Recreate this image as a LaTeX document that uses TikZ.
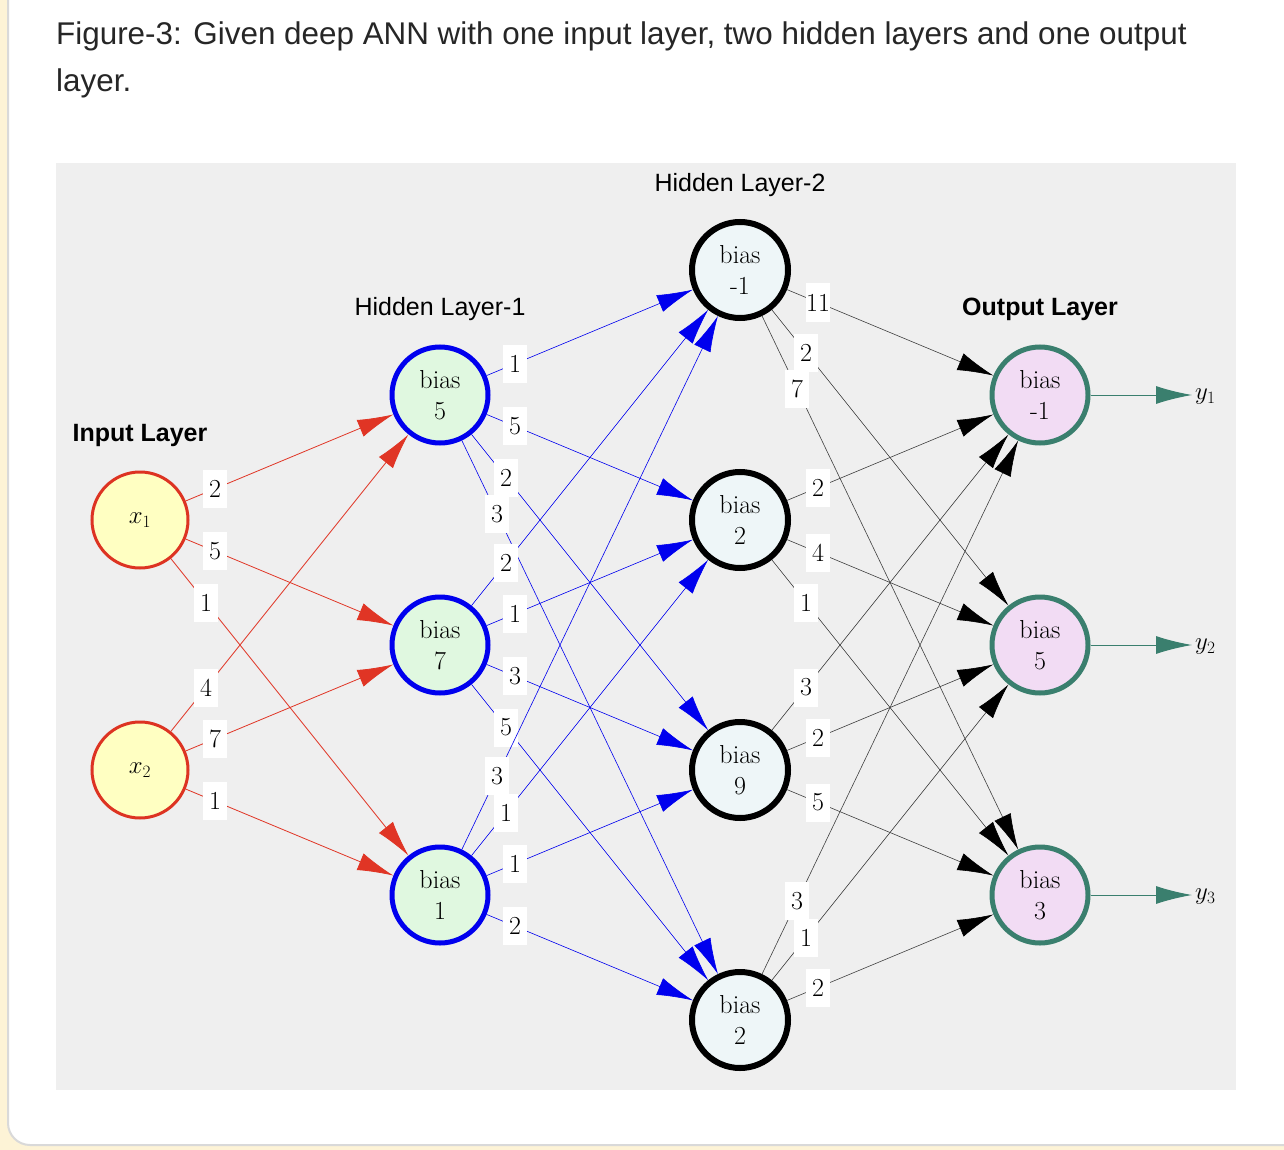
\documentclass[tikz,border=0pt]{standalone}
\usepackage{fontspec}
\newfontfamily\hdrfont{Liberation Sans}
\usetikzlibrary{arrows.meta,calc}
\definecolor{cream}{HTML}{FDF3D6}
\definecolor{panel}{HTML}{EFEFEF}
\definecolor{inF}{HTML}{FFFFC2}
\definecolor{inD}{HTML}{DD3322}
\definecolor{h1F}{HTML}{E0F8E0}
\definecolor{h1D}{HTML}{0000EE}
\definecolor{h2F}{HTML}{EEF6F8}
\definecolor{oF}{HTML}{F2DCF4}
\definecolor{oD}{HTML}{3A7F6E}
\definecolor{rd}{HTML}{E03525}
\tikzset{
 neuron/.style={circle,minimum size=96pt,inner sep=0pt,align=center,font=\fontsize{26}{31}\selectfont},
 inN/.style={neuron,fill=inF,draw=inD,line width=3pt},
 h1N/.style={neuron,fill=h1F,draw=h1D,line width=5pt},
 h2N/.style={neuron,fill=h2F,draw=black,line width=6pt},
 oN/.style={neuron,fill=oF,draw=oD,line width=5pt},
 wl/.style={fill=white,inner sep=0pt,minimum width=24pt,minimum height=38pt,font=\fontsize{26}{30}\selectfont},
 eR/.style={-{Latex[length=36pt,width=18pt,rd]},draw=rd,line width=0.8pt},
 eB/.style={-{Latex[length=36pt,width=18pt,h1D]},draw=h1D,line width=0.6pt},
 eK/.style={-{Latex[length=36pt,width=18pt,black]},draw=black!75,line width=0.6pt},
 hdr/.style={font=\hdrfont\fontsize{25}{29}\selectfont},
}
\newcommand{\edge}[5]{\draw[#1] (#2) -- (#3); \node[wl] (l-#2-#3) at ($(#2)!#4!(#3)$) {#5};}
\begin{document}
\begin{tikzpicture}[x=1pt,y=-1pt]
\useasboundingbox (0,0) rectangle (1284,1150);
\fill[cream] (0,0) rectangle (1284,1150);
\draw[fill=white,draw=black!15,line width=2pt,rounded corners=22pt] (8,-40) rectangle (1320,1145);
\fill[panel] (56,163) rectangle (1236,1090);
\node[anchor=north west,align=left,font=\hdrfont\fontsize{31.4}{47}\selectfont,text=black!85,inner sep=0pt] (cap) at (56,22) {Figure-3: Given deep ANN with one input layer, two hidden layers and one output\\layer.};
% headers
\node[hdr,font=\hdrfont\bfseries\fontsize{25}{29}\selectfont] (tin) at (140,435) {Input Layer};
\node[hdr] (th1) at (440,309) {Hidden Layer-1};
\node[hdr] (th2) at (740,185) {Hidden Layer-2};
\node[hdr,font=\hdrfont\bfseries\fontsize{25}{29}\selectfont] (tout) at (1040,309) {Output Layer};
% nodes
\node[inN] (x1) at (140,520) {$x_1$};
\node[inN] (x2) at (140,770) {$x_2$};
\node[h1N] (a) at (440,395) {bias\\5};
\node[h1N] (b) at (440,645) {bias\\7};
\node[h1N] (c) at (440,895) {bias\\1};
\node[h2N] (p) at (740,270) {bias\\-1};
\node[h2N] (q) at (740,520) {bias\\2};
\node[h2N] (r) at (740,770) {bias\\9};
\node[h2N] (s) at (740,1020) {bias\\2};
\node[oN] (o1) at (1040,395) {bias\\-1};
\node[oN] (o2) at (1040,645) {bias\\5};
\node[oN] (o3) at (1040,895) {bias\\3};
% input edges
\edge{eR}{x1}{a}{.25}{2}
\edge{eR}{x1}{b}{.25}{5}
\edge{eR}{x1}{c}{.22}{1}
\edge{eR}{x2}{a}{.22}{4}
\edge{eR}{x2}{b}{.25}{7}
\edge{eR}{x2}{c}{.25}{1}
% hidden 1 edges
\edge{eB}{a}{p}{.25}{1}
\edge{eB}{a}{q}{.25}{5}
\edge{eB}{a}{r}{.22}{2}
\edge{eB}{a}{s}{.19}{3}
\edge{eB}{b}{p}{.22}{2}
\edge{eB}{b}{q}{.25}{1}
\edge{eB}{b}{r}{.25}{3}
\edge{eB}{b}{s}{.22}{5}
\edge{eB}{c}{p}{.19}{3}
\edge{eB}{c}{q}{.22}{1}
\edge{eB}{c}{r}{.25}{1}
\edge{eB}{c}{s}{.25}{2}
% hidden 2 edges
\edge{eK}{p}{o1}{.26}{11}
\edge{eK}{p}{o2}{.22}{2}
\edge{eK}{p}{o3}{.19}{7}
\edge{eK}{q}{o1}{.26}{2}
\edge{eK}{q}{o2}{.26}{4}
\edge{eK}{q}{o3}{.22}{1}
\edge{eK}{r}{o1}{.22}{3}
\edge{eK}{r}{o2}{.26}{2}
\edge{eK}{r}{o3}{.26}{5}
\edge{eK}{s}{o1}{.19}{3}
\edge{eK}{s}{o2}{.22}{1}
\edge{eK}{s}{o3}{.26}{2}
% outputs
\foreach \i/\yy in {1/395,2/645,3/895}{
 \coordinate (e\i) at (1192,\yy);
 \draw[-{Latex[length=36pt,width=18pt,oD]},draw=oD,line width=1pt] (o\i) -- (e\i);
 \node[font=\fontsize{23}{27}\selectfont,anchor=west,inner sep=1pt] (y\i) at (1194,\yy+2) {$y_\i$};
}
\end{tikzpicture}
\end{document}
